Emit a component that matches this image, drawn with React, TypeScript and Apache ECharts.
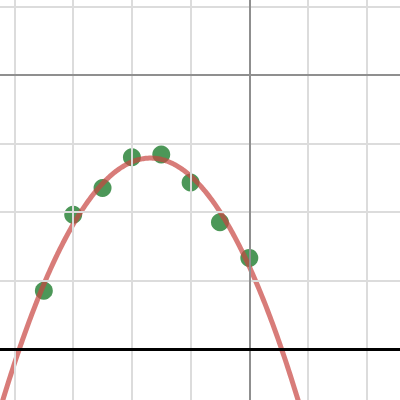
import React, { useEffect, useRef } from "react";
import * as echarts from "echarts";

// Observed data points (green dots)
const pointX = [-3.5, -3, -2.5, -2, -1.5, -1, -0.5, 0];
const pointY = [-3.15, -2.04, -1.65, -1.2, -1.16, -1.57, -2.15, -2.67];

// Grid line positions
const xGridTicks = [-4, -3, -2, -1, 1, 2];
const yGridTicks = [1, -1, -2, -3];
const xAxisZero = [0];
const yAxisZero = [0];
const baselineY = [-4];

// Visible window
const X_MIN = -4.247;
const X_MAX = 2.567;
const Y_MIN = -4.745;
const Y_MAX = 1.095;

// Least-squares quadratic fit of the points (the red curve)
function quadFit(xs: number[], ys: number[]) {
  let s0 = 0, s1 = 0, s2 = 0, s3 = 0, s4 = 0, t0 = 0, t1 = 0, t2 = 0;
  for (let i = 0; i < xs.length; i++) {
    const x = xs[i], y = ys[i];
    s0 += 1; s1 += x; s2 += x * x; s3 += x * x * x; s4 += x * x * x * x;
    t0 += y; t1 += x * y; t2 += x * x * y;
  }
  const M = [
    [s4, s3, s2, t2],
    [s3, s2, s1, t1],
    [s2, s1, s0, t0],
  ];
  for (let c = 0; c < 3; c++) {
    let p = c;
    for (let r = c + 1; r < 3; r++) if (Math.abs(M[r][c]) > Math.abs(M[p][c])) p = r;
    [M[c], M[p]] = [M[p], M[c]];
    for (let r = 0; r < 3; r++) {
      if (r === c) continue;
      const f = M[r][c] / M[c][c];
      for (let k = c; k < 4; k++) M[r][k] -= f * M[c][k];
    }
  }
  return [M[0][3] / M[0][0], M[1][3] / M[1][1], M[2][3] / M[2][2]];
}

export default function App() {
  const ref = useRef<HTMLDivElement>(null);
  useEffect(() => {
    if (!ref.current) return;
    const chart = echarts.init(ref.current, undefined, { renderer: "svg" });
    const [a, b, c] = quadFit(pointX, pointY);
    const curve: number[][] = [];
    for (let x = X_MIN - 0.1; x <= X_MAX + 0.1; x += 0.02) {
      curve.push([x, a * x * x + b * x + c]);
    }
    const light = { color: "#dcdcdc", width: 2, type: "solid" as const };
    const dark = { color: "#8f8f8f", width: 2, type: "solid" as const };
    const black = { color: "#000000", width: 3, type: "solid" as const };
    const markData: any[] = [
      ...xGridTicks.map((v) => ({ xAxis: v, lineStyle: light })),
      ...yGridTicks.map((v) => ({ yAxis: v, lineStyle: light })),
      ...xAxisZero.map((v) => ({ xAxis: v, lineStyle: dark })),
      ...yAxisZero.map((v) => ({ yAxis: v, lineStyle: dark })),
      ...baselineY.map((v) => ({ yAxis: v, lineStyle: black })),
    ];
    chart.setOption({
      animation: false,
      backgroundColor: "#ffffff",
      grid: { left: 0, right: 0, top: 0, bottom: 0 },
      xAxis: { type: "value", min: X_MIN, max: X_MAX, show: false },
      yAxis: { type: "value", min: Y_MIN, max: Y_MAX, show: false },
      series: [
        {
          type: "line",
          data: [],
          z: 1,
          silent: true,
          markLine: {
            silent: true,
            symbol: ["none", "none"],
            label: { show: false },
            emphasis: { disabled: true },
            data: markData,
          },
        },
        {
          type: "scatter",
          data: pointX.map((x, i) => [x, pointY[i]]),
          symbol: "circle",
          symbolSize: 18,
          z: 3,
          silent: true,
          itemStyle: { color: "#388c46", opacity: 0.9 },
        },
        {
          type: "line",
          data: curve,
          showSymbol: false,
          symbol: "none",
          clip: true,
          z: 4,
          silent: true,
          lineStyle: { color: "#c74440", width: 5, opacity: 0.7 },
        },
      ],
    });
    return () => chart.dispose();
  }, []);
  return (
    <div
      ref={ref}
      style={{ position: "fixed", left: 0, top: 0, width: 400, height: 400, background: "#fff" }}
    />
  );
}
